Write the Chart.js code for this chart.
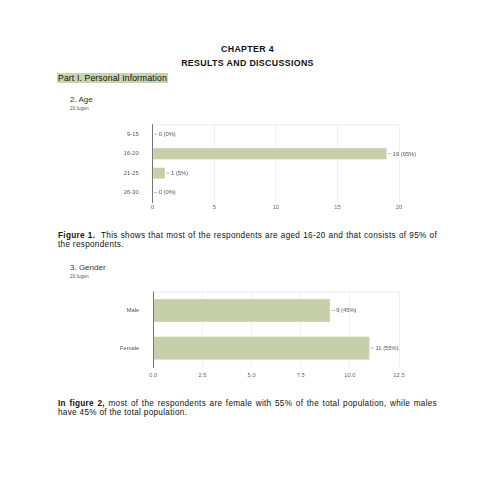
<!DOCTYPE html>
<html>
<head>
<meta charset="utf-8">
<script src="https://cdn.jsdelivr.net/npm/chart.js@4"></script>
<style>
  html, body { margin: 0; padding: 0; background: #fff; }
  body { width: 495px; height: 495px; position: relative; overflow: hidden;
         font-family: "Liberation Sans", Arial, sans-serif; color: #111; }
  .abs { position: absolute; white-space: nowrap; }
  .head { left: 0; width: 495px; text-align: center; font-weight: bold; font-size: 8.8px; letter-spacing: 0.35px; }
  .hl { background: #c9d3ad; padding: 0 1px; }
  .q { font-size: 8px; color: #333; }
  .sub { font-size: 4.8px; color: #555; }
  .para { left: 58px; width: 379px; font-size: 8.2px; letter-spacing: 0.3px; line-height: 9.3px; white-space: normal; }
  .para .l1 { text-align: justify; text-align-last: justify; white-space: nowrap; }
  canvas { position: absolute; }
</style>
</head>
<body>
<div class="abs head" style="top:43.5px">CHAPTER 4</div>
<div class="abs head" style="top:58px">RESULTS AND DISCUSSIONS</div>
<div class="abs" style="left:57px; top:72.5px; font-size:8.6px; letter-spacing:0.15px"><span class="hl">Part I. Personal Information</span></div>

<div class="abs q" style="left:70px; top:95px">2. Age</div>
<div class="abs sub" style="left:70px; top:105.5px">20 tugon</div>
<canvas id="ageChart" width="330" height="100" style="left:100px; top:115px; width:330px; height:100px"></canvas>

<div class="abs para" style="top:230.5px">
  <div class="l1"><b>Figure 1.</b>&nbsp; This shows that most of the respondents are aged 16-20 and that consists of 95% of</div>
  <div>the respondents.</div>
</div>

<div class="abs q" style="left:70px; top:262.5px">3. Gender</div>
<div class="abs sub" style="left:70px; top:273.5px">20 tugon</div>
<canvas id="genderChart" width="330" height="100" style="left:100px; top:282px; width:330px; height:100px"></canvas>

<div class="abs para" style="top:398.5px">
  <div class="l1"><b>In figure 2,</b> most of the respondents are female with 55% of the total population, while males</div>
  <div>have 45% of the total population.</div>
</div>

<script>
// age question
var ageLabels = ["9-15", "16-20", "21-25", "26-30"];
var ageCounts = [0, 19, 1, 0];
var ageValueLabels = ["0 (0%)", "19 (95%)", "1 (5%)", "0 (0%)"];
var ageTicks = [0, 5, 10, 15, 20];

// gender question
var genderLabels = ["Male", "Female"];
var genderCounts = [9, 11];
var genderValueLabels = ["9 (45%)", "11 (55%)"];
var genderTicks = [0, 2.5, 5, 7.5, 10, 12.5];

var barColor = "#c6cfaa";
var tickFont = { family: "Liberation Sans", size: 5.8 };

// light line along the top of the plot area
var framePlugin = {
    id: "frame",
    beforeDatasetsDraw: function (chart) {
        var a = chart.chartArea, ctx = chart.ctx;
        ctx.save();
        ctx.strokeStyle = "#e6e6e6";
        ctx.lineWidth = 0.8;
        ctx.beginPath();
        ctx.moveTo(a.left, a.top + 0.4);
        ctx.lineTo(a.right, a.top + 0.4);
        ctx.stroke();
        ctx.restore();
    }
};

// "— 19 (95%)" labels at the end of each bar
var valuePlugin = {
    id: "values",
    afterDatasetsDraw: function (chart) {
        var ctx = chart.ctx;
        var texts = chart.options.plugins.values.texts;
        var meta = chart.getDatasetMeta(0);
        var xs = chart.scales.x;
        ctx.save();
        ctx.font = "5.8px 'Liberation Sans'";
        ctx.textBaseline = "middle";
        meta.data.forEach(function (bar, i) {
            var v = chart.data.datasets[0].data[i];
            var x = xs.getPixelForValue(v);
            var y = bar.y;
            ctx.strokeStyle = "#999";
            ctx.lineWidth = 0.6;
            ctx.beginPath();
            ctx.moveTo(x + 1, y);
            ctx.lineTo(x + 5, y);
            ctx.stroke();
            ctx.fillStyle = "#555";
            ctx.fillText(texts[i], x + 6, y + 0.3);
        });
        ctx.restore();
    }
};

function makeChart(id, labels, counts, texts, ticks, opts) {
    var ctx = document.getElementById(id).getContext("2d");
    return new Chart(ctx, {
        type: "bar",
        data: {
            labels: labels,
            datasets: [{
                data: counts,
                backgroundColor: barColor,
                borderColor: "#b7c197",
                borderWidth: 0.5,
                barPercentage: opts.barPct,
                categoryPercentage: 1
            }]
        },
        options: {
            indexAxis: "y",
            responsive: false,
            animation: false,
            events: [],
            layout: { padding: { top: opts.top, right: 31, left: 0, bottom: 0 } },
            scales: {
                x: {
                    min: ticks[0],
                    max: ticks[ticks.length - 1],
                    afterBuildTicks: function (s) {
                        s.ticks = ticks.map(function (t) { return { value: t }; });
                    },
                    afterFit: function (s) { s.height = opts.xHeight; },
                    grid: { color: "#ececec", lineWidth: 0.8, drawTicks: false },
                    border: { display: false },
                    ticks: {
                        font: tickFont, color: "#666", padding: opts.xPad, maxRotation: 0,
                        callback: function (v) { return opts.fixed ? Number(v).toFixed(1) : v; }
                    }
                },
                y: {
                    afterFit: function (s) { s.width = opts.yWidth; },
                    grid: { display: false },
                    border: { display: true, color: "#666", width: 0.9 },
                    ticks: { font: tickFont, color: "#555", padding: 6 }
                }
            },
            plugins: {
                legend: { display: false },
                tooltip: { enabled: false },
                values: { texts: texts }
            }
        },
        plugins: [framePlugin, valuePlugin]
    });
}

makeChart("ageChart", ageLabels, ageCounts, ageValueLabels, ageTicks,
    { barPct: 0.59, top: 5, xHeight: 12.7, xPad: 2, yWidth: 52.7, fixed: false });
makeChart("genderChart", genderLabels, genderCounts, genderValueLabels, genderTicks,
    { barPct: 0.62, top: 4.7, xHeight: 15, xPad: 4.5, yWidth: 53.3, fixed: true });
</script>
</body>
</html>
